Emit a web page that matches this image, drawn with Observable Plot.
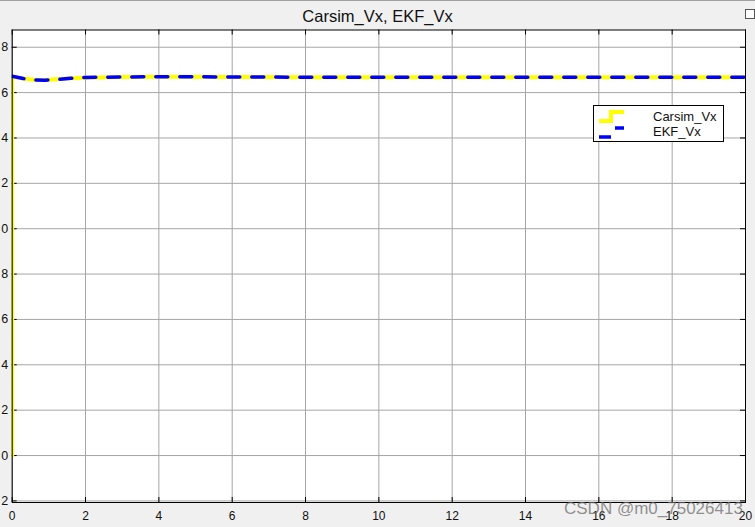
<!DOCTYPE html>
<html>
<head>
<meta charset="utf-8">
<script src="https://cdn.jsdelivr.net/npm/d3@7"></script>
<script src="https://cdn.jsdelivr.net/npm/@observablehq/plot@0.6"></script>
<style>
  html, body { margin: 0; padding: 0; }
  body { width: 755px; height: 527px; background: #f0f0f0; position: relative; overflow: hidden;
         font-family: "Liberation Sans", Arial, Helvetica, sans-serif; }
  #topline { position: absolute; left: 0; top: 0; width: 755px; height: 1px; border-top: 1px solid #a0a0a0; }
  #title { position: absolute; left: 0; width: 755px; top: 7px; text-align: center; font-size: 16.5px; color: #111; }
  #chart { position: absolute; left: -10px; top: 0; clip-path: inset(0 0 0 11px); }
  #legend { position: absolute; left: 593px; top: 105px; width: 129px; height: 35px; background: #fff; border: 1px solid #000; }
  #legend .lab { position: absolute; left: 59px; font-size: 13px; color: #111; }
  #legend svg { position: absolute; left: 0; top: 0; }
  #icon { position: absolute; left: 745px; top: 9px; width: 8px; height: 8px; border: 1px solid #555; background: #fff; }
  #wm { position: absolute; left: 564px; top: 499px; font-size: 17px; color: rgba(110,110,110,0.75); white-space: nowrap; }
</style>
</head>
<body>
<div id="topline"></div>
<div id="title">Carsim_Vx, EKF_Vx</div>
<div id="chart"></div>
<div id="legend">
  <svg width="129" height="35">
    <polyline points="5,15 17,15 17,6 30,6" fill="none" stroke="#ffff00" stroke-width="4"/>
    <line x1="5" y1="31" x2="17" y2="31" stroke="#0000ff" stroke-width="3.5"/>
    <line x1="21" y1="22" x2="30" y2="22" stroke="#0000ff" stroke-width="3.5"/>
  </svg>
  <div class="lab" style="top:3px">Carsim_Vx</div>
  <div class="lab" style="top:18px">EKF_Vx</div>
</div>
<div id="icon"></div>
<div id="wm">CSDN @m0_75026413</div>
<script>
// Data (time in s, speed)
const carsimT = [0, 0, 0.3, 0.6, 0.9, 1.2, 1.6, 2, 3, 4, 6, 8, 10, 12, 14, 16, 18, 20];
const carsimV = [0, 16.7, 16.62, 16.57, 16.56, 16.59, 16.63, 16.66, 16.69, 16.7, 16.69, 16.68, 16.68, 16.68, 16.68, 16.68, 16.68, 16.68];
const ekfT = [0, 0.3, 0.6, 0.9, 1.2, 1.6, 2, 3, 4, 6, 8, 10, 12, 14, 16, 18, 20];
const ekfV = [16.72, 16.62, 16.56, 16.55, 16.58, 16.63, 16.67, 16.69, 16.7, 16.69, 16.68, 16.68, 16.68, 16.68, 16.68, 16.68, 16.68];
const xTicks = [0, 2, 4, 6, 8, 10, 12, 14, 16, 18, 20];
const yTicks = [-2, 0, 2, 4, 6, 8, 10, 12, 14, 16, 18];

const carsim = carsimT.map((t, i) => ({t, v: carsimV[i]}));
const ekf = ekfT.map((t, i) => ({t, v: ekfV[i]}));

const W = 765, H = 527, mL = 21.7, mR = 10, mT = 29.5, mB = 25;
const fw = W - mL - mR, fh = H - mT - mB;

const chart = Plot.plot({
  width: W, height: H,
  marginLeft: mL, marginRight: mR, marginTop: mT, marginBottom: mB,
  style: { background: "transparent", fontFamily: "'Liberation Sans', Arial, Helvetica, sans-serif", fontSize: "12px", color: "#111" },
  x: { domain: [0, 20] },
  y: { domain: [-2.07, 18.76] },
  marks: [
    Plot.frame({ fill: "#fff", stroke: null }),
    Plot.gridX({ ticks: xTicks, stroke: "#a6a6a6", strokeOpacity: 1 }),
    Plot.gridY({ ticks: yTicks, stroke: "#a6a6a6", strokeOpacity: 1 }),
    Plot.tickX(xTicks, { x: d => d, insetTop: fh - 5, stroke: "#000" }),
    Plot.tickX(xTicks, { x: d => d, insetBottom: fh - 5, stroke: "#000" }),
    Plot.tickY(yTicks, { y: d => d, insetRight: fw - 5, stroke: "#000" }),
    Plot.tickY(yTicks, { y: d => d, insetLeft: fw - 5, stroke: "#000" }),
    Plot.axisX({ ticks: xTicks, tickSize: 0, tickPadding: 9, label: null, fontSize: 12 }),
    Plot.axisY({ ticks: yTicks, tickSize: 0, tickPadding: 4, label: null, fontSize: 12.5 }),
    Plot.line(carsim, { x: "t", y: "v", stroke: "#ffff00", strokeWidth: 4, clip: true }),
    Plot.line(ekf, { x: "t", y: "v", stroke: "#0000ff", strokeWidth: 3.5, strokeDasharray: "12,12", clip: true }),
    Plot.frame({ stroke: "#000", strokeWidth: 1 })
  ]
});
document.getElementById("chart").append(chart);
</script>
</body>
</html>
